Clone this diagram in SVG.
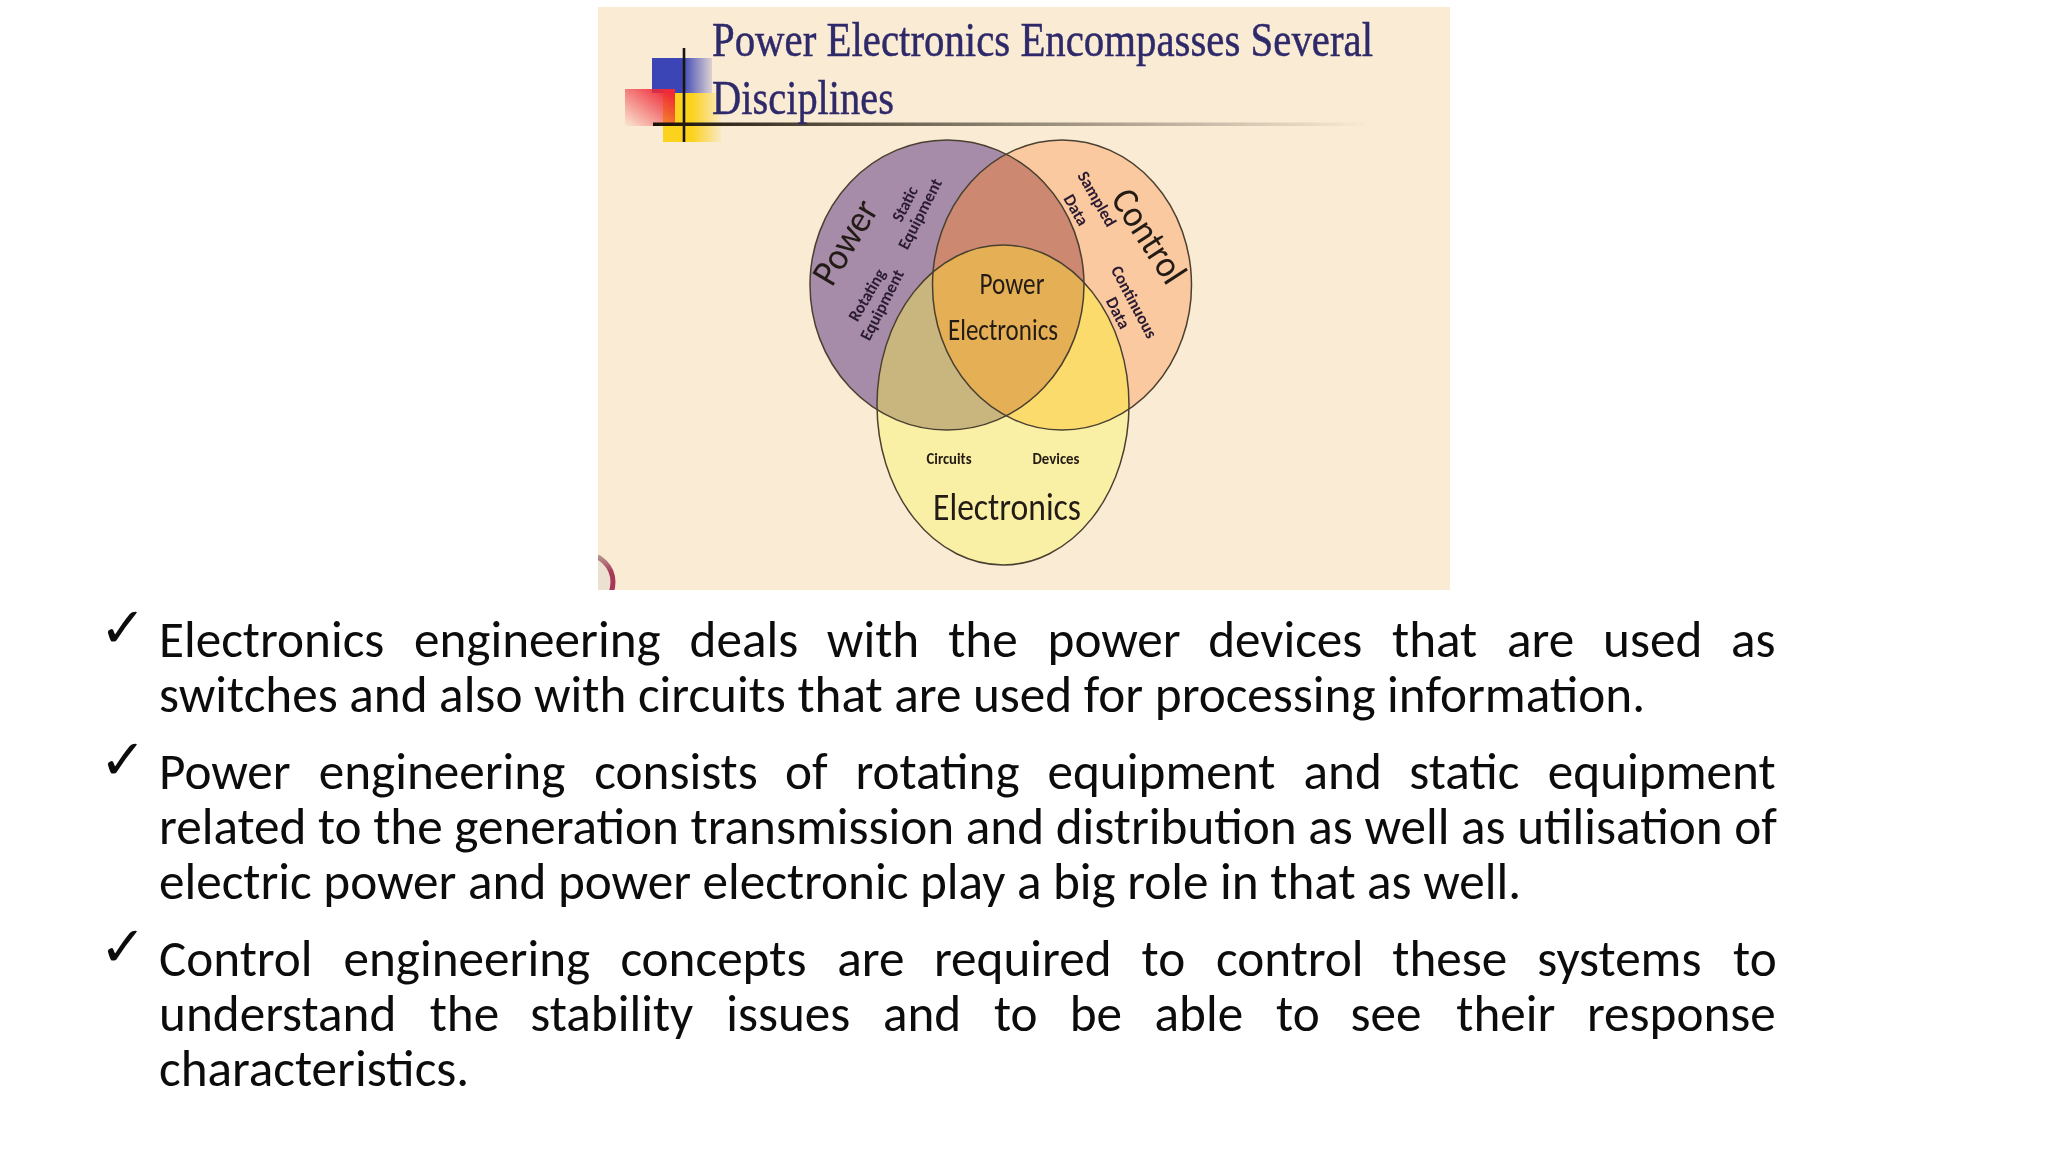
<svg xmlns="http://www.w3.org/2000/svg" width="2048" height="1152" viewBox="0 0 2048 1152">
<style>
.b{font-family:Carlito,Lato,"Liberation Sans",sans-serif;font-size:51.2px;fill:#0c0c0c}
.t{font-family:"Liberation Serif",serif;font-size:49px;fill:#2f2a6b;stroke:#2f2a6b;stroke-width:.5}
.v{font-family:Carlito,Lato,"Open Sans",sans-serif;fill:#241a14;text-anchor:middle}
.s{font-size:17px;font-weight:700;fill:#2a1a30}
.tick{font-family:"DejaVu Sans",sans-serif;font-size:56px;fill:#0c0c0c}
.o{fill:none;stroke:#4a4030;stroke-width:1.5}
</style>
<defs>
<filter id="soft" x="-5%" y="-5%" width="110%" height="110%"><feGaussianBlur stdDeviation="0.7"/></filter>
<linearGradient id="bl" x1="0" x2="1" y1="0" y2="0"><stop offset="0.5" stop-color="#3a44b5"/><stop offset="1" stop-color="#3a44b5" stop-opacity="0.15"/></linearGradient>
<linearGradient id="re" x1="1" x2="0" y1="0" y2="1"><stop offset="0.1" stop-color="#ee2a38"/><stop offset="1" stop-color="#ee2a38" stop-opacity="0.02"/></linearGradient>
<linearGradient id="ye" x1="0" x2="1" y1="0" y2="0"><stop offset="0.5" stop-color="#fbd21e"/><stop offset="1" stop-color="#fbd21e" stop-opacity="0.1"/></linearGradient>
<linearGradient id="hl" x1="0" x2="1" y1="0" y2="0"><stop offset="0" stop-color="#1a1008"/><stop offset="0.25" stop-color="#5a5040"/><stop offset="1" stop-color="#5a5040" stop-opacity="0"/></linearGradient>
<linearGradient id="se" gradientUnits="userSpaceOnUse" x1="0" x2="0" y1="553" y2="572"><stop offset="0" stop-color="#b8a898"/><stop offset="1" stop-color="#a83858"/></linearGradient>
<ellipse id="ep" cx="947" cy="285" rx="137" ry="145"/>
<ellipse id="ec" cx="1062" cy="285" rx="129.5" ry="145"/>
<ellipse id="ee" cx="1003" cy="405" rx="126" ry="160"/>
<clipPath id="cp"><use href="#ep"/></clipPath>
<clipPath id="cc"><use href="#ec"/></clipPath>
<clipPath id="ce"><use href="#ee"/></clipPath>
<clipPath id="panel"><rect x="598" y="7" width="852" height="583"/></clipPath>
</defs>
<rect width="2048" height="1152" fill="#fff"/>
<g id="picture" clip-path="url(#panel)">
<rect x="598" y="7" width="852" height="583" fill="#faebd5"/>
<circle cx="585" cy="582" r="28" fill="#ece0d0" stroke="url(#se)" stroke-width="5" filter="url(#soft)"/>
<g id="logo">
<rect x="652" y="58" width="60" height="35" fill="url(#bl)" filter="url(#soft)"/>
<rect x="663" y="93" width="58" height="49" fill="url(#ye)" filter="url(#soft)"/>
<rect x="625" y="89" width="50" height="37" fill="url(#re)" filter="url(#soft)"/>
<rect x="682.7" y="48" width="2.6" height="94" fill="#1a1410"/>
<rect x="653" y="122.5" width="716" height="3.5" fill="url(#hl)" filter="url(#soft)"/>
</g>
<g id="title" filter="url(#soft)">
<text class="t" x="712" y="56" textLength="661" lengthAdjust="spacingAndGlyphs">Power Electronics Encompasses Several</text>
<text class="t" x="712" y="114" textLength="182" lengthAdjust="spacingAndGlyphs">Disciplines</text>
</g>
<g id="venn" filter="url(#soft)">
<use href="#ep" fill="#a68ca8"/>
<use href="#ec" fill="#fbc9a0"/>
<g clip-path="url(#cp)"><use href="#ec" fill="#cc8870"/></g>
<use href="#ee" fill="#f9f0a6"/>
<g clip-path="url(#ce)"><use href="#ep" fill="#c9b67e"/><use href="#ec" fill="#fadb6c"/><g clip-path="url(#cp)"><use href="#ec" fill="#e5b055"/></g></g>
<use href="#ep" class="o"/><use href="#ec" class="o"/><use href="#ee" class="o"/>
</g>
<g id="venn-labels" filter="url(#soft)">
<text class="v" font-size="38" transform="translate(845 242) rotate(-59)" dy=".33em" textLength="92" lengthAdjust="spacingAndGlyphs">Power</text>
<text class="v" font-size="38" transform="translate(1149 236) rotate(57)" dy=".33em" textLength="105" lengthAdjust="spacingAndGlyphs">Control</text>
<text class="v s" transform="translate(905 204) rotate(-63)" dy=".33em" textLength="37" lengthAdjust="spacingAndGlyphs">Static</text>
<text class="v s" transform="translate(920 214) rotate(-63)" dy=".33em" textLength="77" lengthAdjust="spacingAndGlyphs">Equipment</text>
<text class="v s" transform="translate(867 295) rotate(-60)" dy=".33em" textLength="57" lengthAdjust="spacingAndGlyphs">Rotating</text>
<text class="v s" transform="translate(882 305) rotate(-63)" dy=".33em" textLength="77" lengthAdjust="spacingAndGlyphs">Equipment</text>
<text class="v s" transform="translate(1097 199) rotate(60)" dy=".33em" textLength="61" lengthAdjust="spacingAndGlyphs">Sampled</text>
<text class="v s" transform="translate(1076 210) rotate(60)" dy=".33em" textLength="33" lengthAdjust="spacingAndGlyphs">Data</text>
<text class="v s" transform="translate(1134 302) rotate(62)" dy=".33em" textLength="79" lengthAdjust="spacingAndGlyphs">Continuous</text>
<text class="v s" transform="translate(1118 313) rotate(63)" dy=".33em" textLength="33" lengthAdjust="spacingAndGlyphs">Data</text>
<text class="v" font-size="30" x="1012" y="294" textLength="65" lengthAdjust="spacingAndGlyphs">Power</text>
<text class="v" font-size="30" x="1003" y="340" textLength="110" lengthAdjust="spacingAndGlyphs">Electronics</text>
<text class="v" font-size="16" font-weight="700" x="949" y="464" textLength="45" lengthAdjust="spacingAndGlyphs">Circuits</text>
<text class="v" font-size="16" font-weight="700" x="1056" y="464" textLength="47" lengthAdjust="spacingAndGlyphs">Devices</text>
<text class="v" font-size="39" x="1007" y="520" textLength="148" lengthAdjust="spacingAndGlyphs">Electronics</text>
</g>
</g>
<g id="bullets">
<text class="tick" x="99.5" y="647">✓</text>
<text class="tick" x="99.5" y="779">✓</text>
<text class="tick" x="99.5" y="966">✓</text>
<text class="b" y="657"><tspan x="159">Electronics</tspan> <tspan x="414">engineering</tspan> <tspan x="689.6">deals</tspan> <tspan x="826.8">with</tspan> <tspan x="948.2">the</tspan> <tspan x="1047.5">power</tspan> <tspan x="1208.2">devices</tspan> <tspan x="1392">that</tspan> <tspan x="1507">are</tspan> <tspan x="1603">used</tspan> <tspan x="1731">as</tspan></text>
<text class="b" x="159" y="712">switches and also with circuits that are used for processing information.</text>
<text class="b" y="789"><tspan x="159">Power</tspan> <tspan x="318.7">engineering</tspan> <tspan x="594.3">consists</tspan> <tspan x="785">of</tspan> <tspan x="855.5">rotating</tspan> <tspan x="1047.5">equipment</tspan> <tspan x="1303.5">and</tspan> <tspan x="1409.3">static</tspan> <tspan x="1547.8">equipment</tspan></text>
<text class="b" x="159" y="844">related to the generation transmission and distribution as well as utilisation of</text>
<text class="b" x="159" y="899">electric power and power electronic play a big role in that as well.</text>
<text class="b" y="976"><tspan x="159">Control</tspan> <tspan x="343.5">engineering</tspan> <tspan x="620.4">concepts</tspan> <tspan x="837.2">are</tspan> <tspan x="933.9">required</tspan> <tspan x="1141.5">to</tspan> <tspan x="1216">control</tspan> <tspan x="1392.3">these</tspan> <tspan x="1537.3">systems</tspan> <tspan x="1733">to</tspan></text>
<text class="b" y="1031"><tspan x="159">understand</tspan> <tspan x="429.7">the</tspan> <tspan x="530.3">stability</tspan> <tspan x="726.2">issues</tspan> <tspan x="882.9">and</tspan> <tspan x="993.9">to</tspan> <tspan x="1069.7">be</tspan> <tspan x="1154.6">able</tspan> <tspan x="1276">to</tspan> <tspan x="1350.5">see</tspan> <tspan x="1456.3">their</tspan> <tspan x="1586.9">response</tspan></text>
<text class="b" x="159" y="1086">characteristics.</text>
</g>
</svg>
